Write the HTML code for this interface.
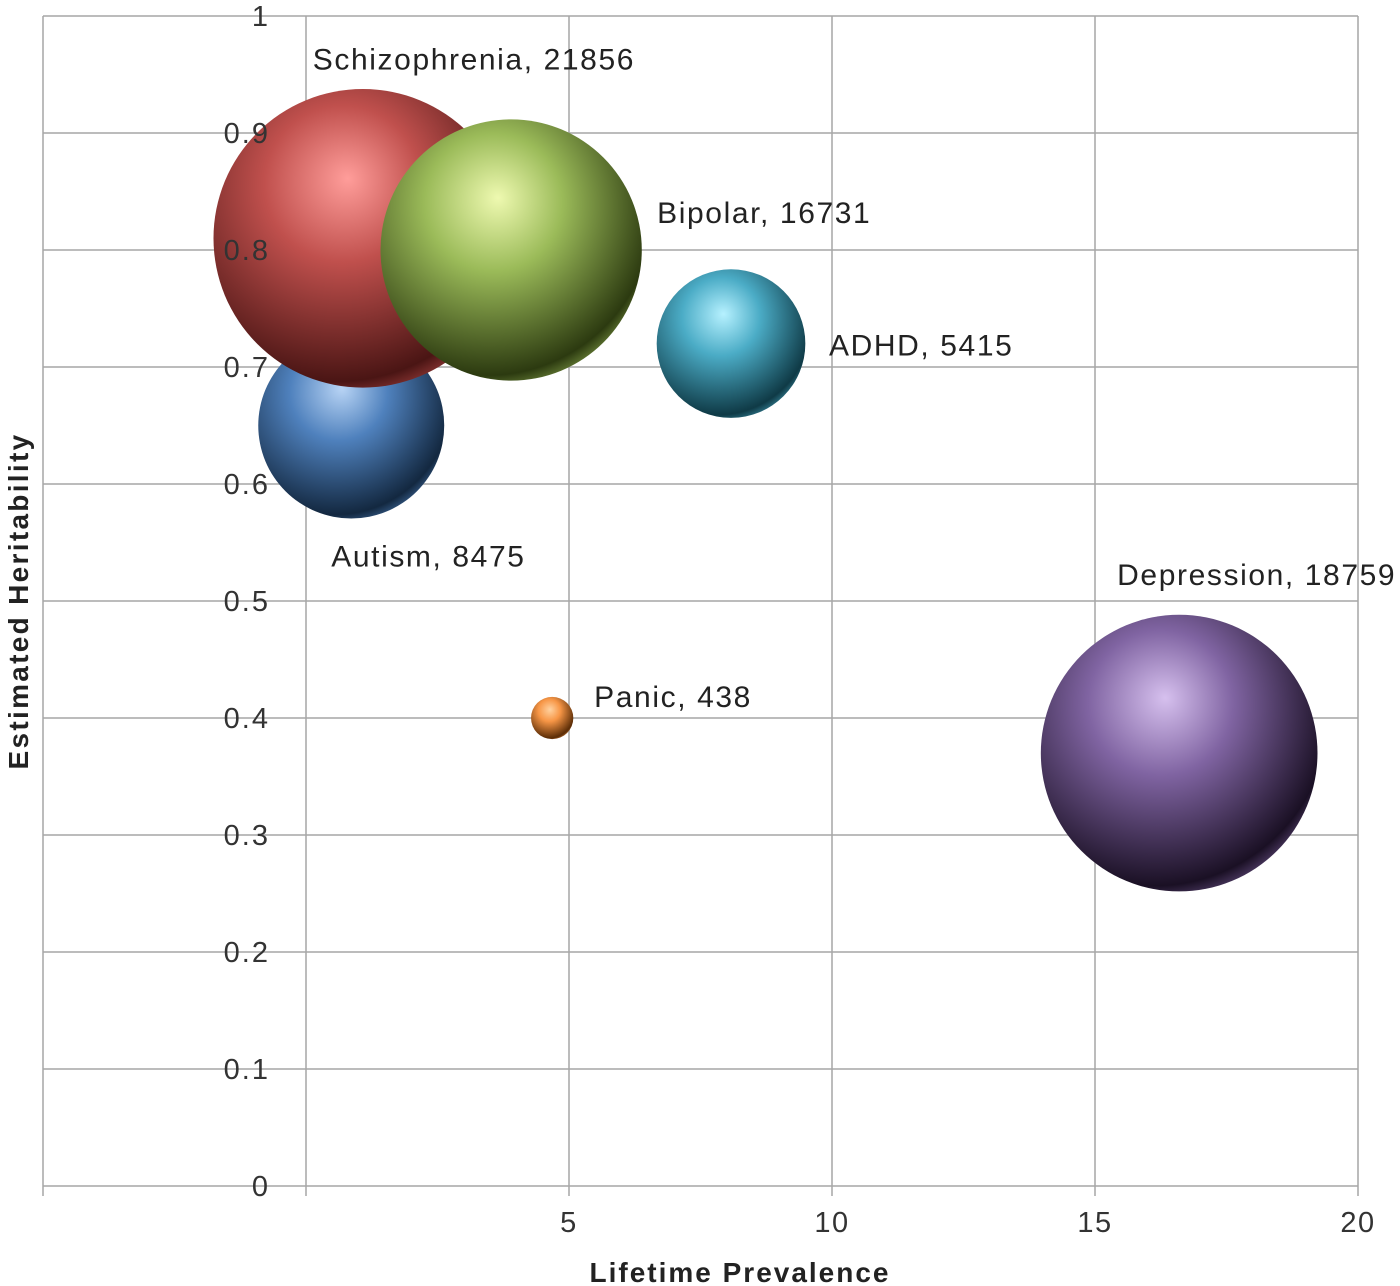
<!DOCTYPE html>
<html><head><meta charset="utf-8"><style>
html,body{margin:0;padding:0;background:#fff;}
svg{display:block;font-family:"Liberation Sans",sans-serif;}
</style></head><body>
<svg id="chart" width="1400" height="1286" viewBox="0 0 1400 1286">
<defs id="defs"></defs>
<g id="grid"></g>
<g id="bubbles"></g>
<g id="labels"></g>
<g id="axes"></g>
<text x="740" y="1282" text-anchor="middle" font-size="28" font-weight="bold" letter-spacing="2" fill="#222">Lifetime Prevalence</text>
<text transform="translate(28,601) rotate(-90)" text-anchor="middle" font-size="28" font-weight="bold" letter-spacing="2.3" fill="#222">Estimated Heritability</text>
</svg>
<script>
const names = ["Autism","Schizophrenia","Bipolar","ADHD","Panic","Depression"];
const prevalence = [0.86,1.08,3.9,8.08,4.68,16.6];
const heritability = [0.65,0.81,0.80,0.72,0.40,0.37];
const sizes = [8475,21856,16731,5415,438,18759];
const xTicks = [5,10,15,20];
const yTicks = [0,0.1,0.2,0.3,0.4,0.5,0.6,0.7,0.8,0.9,1];
const yTickLabels = ["0","0.1","0.2","0.3","0.4","0.5","0.6","0.7","0.8","0.9","1"];

const colors = ["#4f81bd","#c0504d","#9bbb59","#4bacc6","#f79646","#8064a2"];
const lights = ["#b8d4f5","#ff9d9a","#eef9b0","#b6f1ff","#ffd2a0","#d6c0ee"];
const darks = ["#132840","#4a1514","#2c3a10","#0f3a46","#5a2c06","#1a1024"];
const labelDx = [-20,-50,146,98,42,-62];
const labelDy = [141,-169,-27,12,-11,-168];

const X = v => 306 + (v - 0) * 52.6;
const Y = v => 1186 - v * 1170;
const R = s => 1.01 * Math.sqrt(s);
const NS = "http://www.w3.org/2000/svg";
function mk(tag, attrs, parent){const e=document.createElementNS(NS,tag);for(const k in attrs)e.setAttribute(k,attrs[k]);parent.appendChild(e);return e;}

const grid=document.getElementById('grid'), axes=document.getElementById('axes');
const defs=document.getElementById('defs'), bub=document.getElementById('bubbles'), lab=document.getElementById('labels');
[-5,0,5,10,15,20].forEach(v=>{
  const l=mk('line',{x1:X(v),x2:X(v),y1:Y(1),y2:Y(0)+10,stroke:'#a6a6a6','stroke-width':1.5},grid);
  
  
});
yTicks.forEach((v,i)=>{
  const l=mk('line',{x1:X(-5),x2:X(20),y1:Y(v),y2:Y(v),stroke:'#a6a6a6','stroke-width':1.5},grid);
  
  
  const t=mk('text',{x:270,y:Y(v)+10,'text-anchor':'end','font-size':29,'letter-spacing':2,fill:'#333'},axes);
  t.textContent=yTickLabels[i];
  
  
});
xTicks.forEach(v=>{
  const t=mk('text',{x:X(v),y:1232,'text-anchor':'middle','font-size':29,'letter-spacing':1.5,fill:'#333'},axes);
  t.textContent=String(v);
  
  
});
names.forEach((n,i)=>{
  const g=mk('radialGradient',{id:'g'+i,cx:'0.4',cy:'0.35',r:'0.75',fx:'0.45',fy:'0.3'},defs);
  mk('stop',{offset:'0',  'stop-color':lights[i]},g);
  mk('stop',{offset:'0.35','stop-color':colors[i]},g);
  mk('stop',{offset:'0.85','stop-color':darks[i]},g);
  mk('stop',{offset:'1','stop-color':colors[i]},g);
  const c=mk('circle',{cx:X(prevalence[i]),cy:Y(heritability[i]),r:R(sizes[i]),fill:'url(#g'+i+')'},bub);
  
  
  const t=mk('text',{x:X(prevalence[i])+labelDx[i],y:Y(heritability[i])+labelDy[i],'font-size':30,'letter-spacing':1.6,fill:'#222'},lab);
  t.textContent=n+", "+sizes[i];
  
  
});
</script>
</body></html>
